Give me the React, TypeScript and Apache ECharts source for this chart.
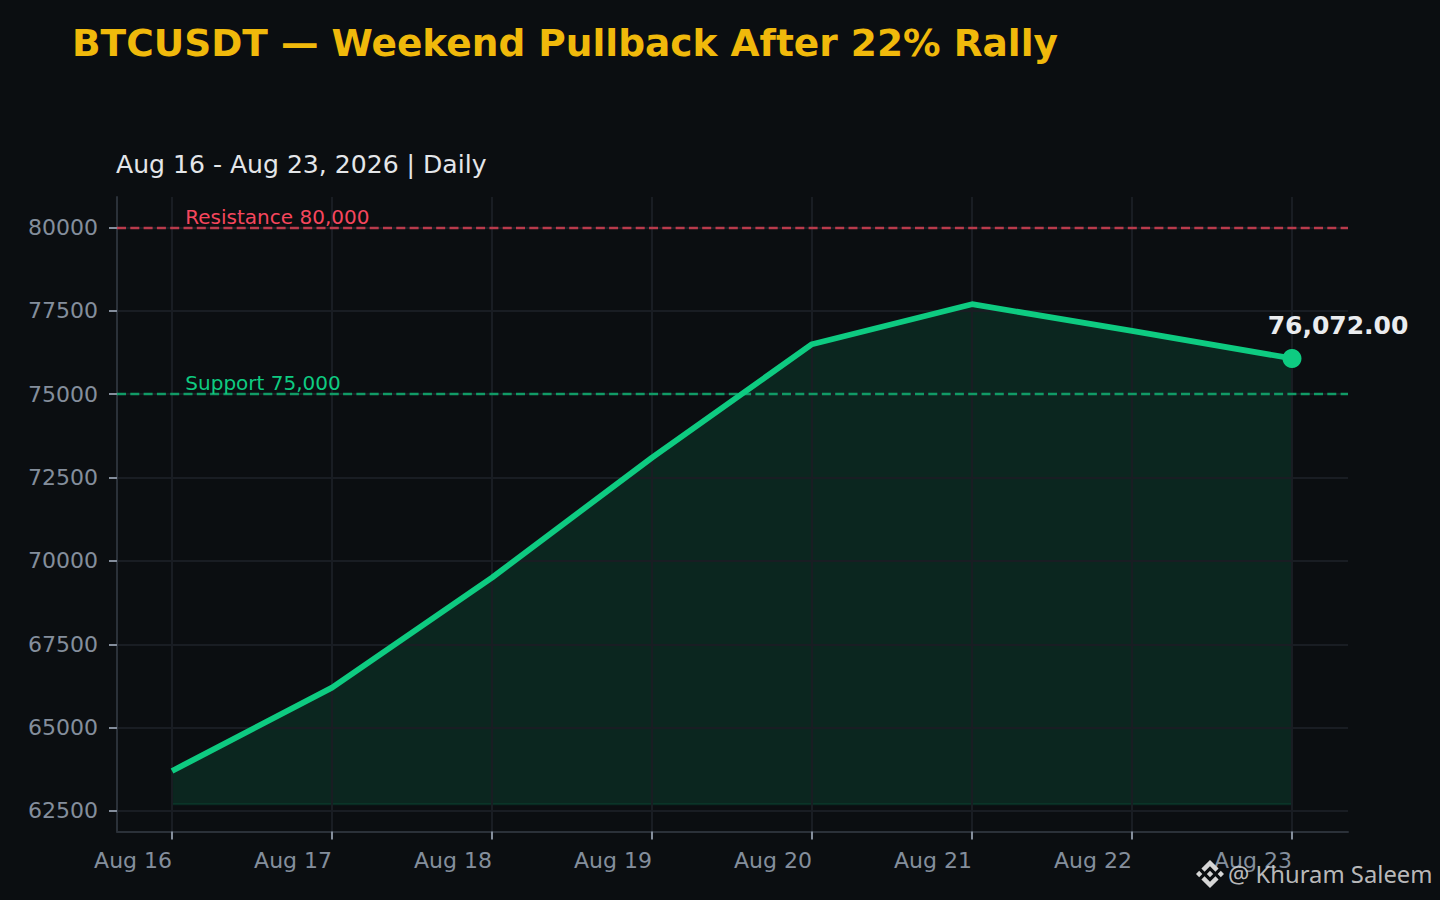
import React, { useEffect, useRef } from "react";
import * as echarts from "echarts";

const dayLabels = ["Aug 16", "Aug 17", "Aug 18", "Aug 19", "Aug 20", "Aug 21", "Aug 22", "Aug 23"];
const closes = [63700, 66200, 69500, 73100, 76500, 77700, 76900, 76072];
const yTicks = [62500, 65000, 67500, 70000, 72500, 75000, 77500, 80000];
const xTicks = [0, 1, 2, 3, 4, 5, 6, 7];
const resistance = 80000;
const support = 75000;
const areaBase = 62700;

const BINANCE =
  "M38.73 53.2l24.59-24.58 24.6 24.6 14.3-14.31L63.32 0 24.43 38.9l14.3 14.3zM0 63.31l14.3-14.31 14.31 14.31-14.31 14.3zM38.73 73.41l24.59 24.59 24.6-24.6 14.31 14.29-38.9 38.91-38.91-38.88-.02-.02zM98 63.31l14.3-14.31 14.31 14.3-14.31 14.32zM77.83 63.3L63.32 48.78 52.59 59.51l-1.24 1.23-2.54 2.54 14.51 14.5 14.51-14.47z";

echarts.graphic.registerShape("binanceLogo", (echarts.graphic as any).extendPath(BINANCE, {}));

const FONT = "DejaVu Sans";
const points = closes.map((v, i) => [xTicks[i], v]);
const last = closes.length - 1;

export default function App() {
  const ref = useRef<HTMLDivElement>(null);
  useEffect(() => {
    document.body.style.margin = "0";
    document.body.style.background = "#0b0e11";
    const chart = echarts.init(ref.current!, null, { renderer: "svg" });
    chart.setOption({
      animation: false,
      backgroundColor: "#0b0e11",
      textStyle: { fontFamily: FONT },
      title: [
        {
          text: "BTCUSDT — Weekend Pullback After 22% Rally",
          left: 67,
          top: 19,
          textStyle: { color: "#f0b90b", fontSize: 37.5, fontWeight: "bold", fontFamily: FONT },
        },
        {
          text: "Aug 16 - Aug 23, 2026 | Daily",
          left: 111,
          top: 147,
          textStyle: { color: "#e4e6e9", fontSize: 25.1, fontWeight: "normal", fontFamily: FONT },
        },
      ],
      grid: { left: 117, top: 197, width: 1231, height: 634.5 },
      xAxis: {
        type: "value",
        min: -0.344,
        max: 7.35,
        z: 1,
        axisLine: { show: true, onZero: false, lineStyle: { color: "#2b3139", width: 2 } },
        axisTick: { show: true, length: 8, customValues: xTicks, lineStyle: { color: "#848e9c", width: 2 } },
        axisLabel: {
          customValues: xTicks,
          formatter: (v: number) => dayLabels[Math.round(v)],
          color: "#848e9c",
          fontSize: 22,
          fontFamily: FONT,
          margin: 18,
          align: "right",
          showMinLabel: true,
          showMaxLabel: true,
        },
        splitLine: { show: true, lineStyle: { color: "#191d23", width: 2 } },
      },
      yAxis: {
        type: "value",
        min: 61885,
        max: 80915,
        z: 1,
        axisLine: { show: true, onZero: false, lineStyle: { color: "#2b3139", width: 2 } },
        axisTick: { show: true, length: 8, customValues: yTicks, lineStyle: { color: "#848e9c", width: 2 } },
        axisLabel: {
          customValues: yTicks,
          formatter: (v: number) => String(v),
          color: "#848e9c",
          fontSize: 22,
          fontFamily: FONT,
          margin: 19,
        },
        splitLine: { show: true, lineStyle: { color: "#191d23", width: 2 } },
      },
      series: [
        {
          type: "line",
          data: points,
          symbol: "none",
          lineStyle: { width: 0, opacity: 0 },
          areaStyle: { color: "#0ecb81", opacity: 0.13, origin: areaBase },
          z: 0,
        },
        {
          type: "line",
          data: [[xTicks[0], closes[0]], [xTicks[0], areaBase], [xTicks[last], areaBase], [xTicks[last], closes[last]]],
          symbol: "none",
          lineStyle: { color: "#0ecb81", width: 2, opacity: 0.13 },
          z: 0,
        },
        {
          type: "line",
          data: points,
          symbol: "none",
          lineStyle: { color: "#0ecb81", width: 5.8, cap: "butt" },
          z: 4,
          markLine: {
            silent: true,
            symbol: "none",
            label: { show: false },
            data: [
              { yAxis: resistance, lineStyle: { color: "#f6465d", type: [9, 4.3], width: 2.4, opacity: 0.72 } },
              { yAxis: support, lineStyle: { color: "#0ecb81", type: [9, 4.3], width: 2.4, opacity: 0.72 } },
            ],
          },
          markPoint: {
            silent: true,
            symbol: "circle",
            symbolSize: 0,
            data: [
              {
                coord: [0.083, resistance],
                label: { show: true, position: "inside", formatter: "Resistance 80,000", color: "#f6465d", fontSize: 20, fontFamily: FONT, align: "left", verticalAlign: "middle", offset: [0, -11] },
              },
              {
                coord: [0.083, support],
                label: { show: true, position: "inside", formatter: "Support 75,000", color: "#0ecb81", fontSize: 20, fontFamily: FONT, align: "left", verticalAlign: "middle", offset: [0, -11] },
              },
              {
                coord: [xTicks[last], closes[last]],
                symbolSize: 19,
                itemStyle: { color: "#0ecb81" },
                label: { show: true, position: "inside", formatter: "76,072.00", color: "#eaecef", fontSize: 25, fontWeight: "bold", fontFamily: FONT, align: "center", verticalAlign: "middle", offset: [46, -33] },
              },
            ],
          },
        },
      ],
      graphic: [
        {
          type: "binanceLogo",
          x: 1196,
          y: 860,
          scaleX: 28 / 126.61,
          scaleY: 28 / 126.61,
          style: { fill: "#d6d6d6" },
          z: 100,
        },
        {
          type: "text",
          x: 1228,
          y: 874,
          style: { text: "@ Khuram Saleem", fill: "#d0d0d0", font: "23.8px 'Noto Sans'", verticalAlign: "middle", opacity: 0.9 },
          z: 100,
        },
      ],
    });
    return () => chart.dispose();
  }, []);
  return <div ref={ref} style={{ width: 1440, height: 900 }} />;
}
